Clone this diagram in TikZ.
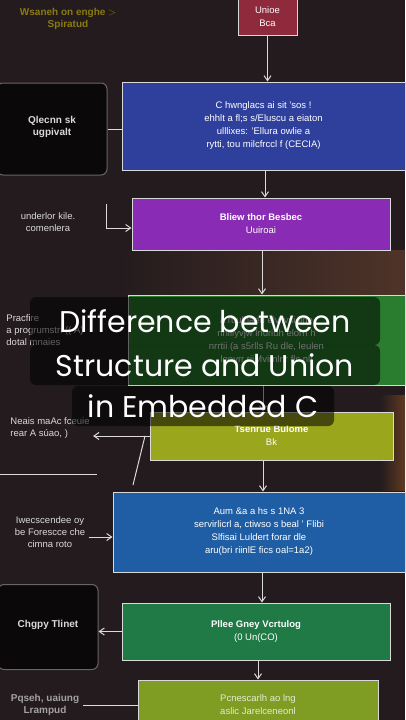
\documentclass[tikz,border=0pt]{standalone}
\usepackage{fontspec}
\setmainfont{Liberation Sans}
\newfontfamily\titlefont{Poppins}
\usetikzlibrary{arrows.meta,calc}
\definecolor{bgc}{HTML}{231B1E}
\definecolor{redb}{HTML}{8E2A3C}
\definecolor{blueA}{HTML}{2E3F9C}
\definecolor{purp}{HTML}{8A2BB5}
\definecolor{greenA}{HTML}{2A7D2E}
\definecolor{ylw}{HTML}{9AA61C}
\definecolor{blueB}{HTML}{1F5EA4}
\definecolor{greenB}{HTML}{1F7A45}
\definecolor{ylwB}{HTML}{7F9D22}
\definecolor{chalk}{HTML}{DADADA}
\definecolor{dimy}{HTML}{8A7A12}
\definecolor{boxedge}{HTML}{6A6466}
\definecolor{warm}{HTML}{5A3A2C}
\tikzset{
  flowbox/.style={draw=white!85!black, line width=1pt, text=white, align=center, inner sep=2pt, font=\fontsize{9.5}{13}\selectfont},
  sidebox/.style={draw=boxedge, line width=1pt, rounded corners=6pt, fill=black!70!bgc},
  sidetext/.style={text=chalk, align=center, font=\fontsize{9.5}{12}\selectfont},
  link/.style={draw=chalk, line width=1pt, -{Straight Barb[length=5pt,width=7pt]}},
  plainlink/.style={draw=chalk, line width=1pt},
  titlebox/.style={fill=black, fill opacity=0.55, text opacity=1, text=white, rounded corners=6pt, inner xsep=6pt, inner ysep=3pt, font=\titlefont\fontsize{30}{34}\selectfont}
}
\begin{document}
\begin{tikzpicture}[x=1pt,y=-1pt]
\useasboundingbox (0,0) rectangle (405,720);
\fill[bgc] (0,0) rectangle (405,720);
\shade[left color=bgc, right color=warm, opacity=0.8] (110,250) rectangle (405,300);
\shade[left color=bgc, right color=warm!80!orange, opacity=0.7] (380,395) rectangle (405,490);

% top left dim text
\node[text=dimy, align=center, font=\bfseries\fontsize{10}{12}\selectfont] (tl) at (68,19) {Wsaneh on enghe $>$\\Spiratud};

% red box
\node[flowbox, fill=redb, minimum width=59pt, minimum height=37pt] (red) at (267.5,17) {Unioe\\Bca};

% blue 1
\node[flowbox, fill=blueA, minimum width=283pt, minimum height=88pt] (b1) at (263.5,126)
 {C hwnglacs ai sit 'sos !\\ehhlt a fl;s s/Eluscu a eiaton\\ulllixes: 'Ellura owlie a\\rytti, tou milcfrccl f (CECIA)};
\node[sidebox, minimum width=110pt, minimum height=92pt] (lb1) at (52,129) {};
\node[sidetext, font=\bfseries\fontsize{10}{12}\selectfont] (lt1) at (52,127) {Qlecnn sk\\ugpivalt};

% purple
\node[flowbox, fill=purp, minimum width=258pt, minimum height=52pt] (pu) at (261,224) {\textbf{Bliew thor Besbec}\\Uuiroai};
\node[sidetext] (lt2) at (48,222) {underlor kile.\\comenlera};
\coordinate (pk) at (106,204);

% green 1
\node[flowbox, fill=greenA, minimum width=277pt, minimum height=90pt] (g1) at (266.5,340)
 {a ruulhaed elvilvsi iine\\nriillyvjw lnuriuh elorri h\\nrrtii (a s5rlls Ru dle, leulen\\loovrr riiMvirnlrir flc nli};
\node[sidetext, align=left] (lt3) at (45,330) {Pracfire\\a progrumstri (( A)\\dotal mnaies};

% yellow 1
\node[flowbox, fill=ylw, minimum width=243pt, minimum height=48pt] (y1) at (271.5,436) {\textbf{Tsenrue Bulome}\\Bk};
\node[sidetext, align=left] (lt4) at (50,428) {Neais maAc fceuie\\rear A s\'uao, )};
\coordinate (yj) at (145,436);
\coordinate (yd) at (133,485);

% blue 2
\node[flowbox, fill=blueB, minimum width=292pt, minimum height=80pt] (b2) at (259,532)
 {Aum \&a a hs s 1NA 3\\servirlicrl a, ctiwso s beal ' Flibi\\Slfisai Luldert forar dle\\aru(bri riinlE fics oal=1a2)};
\node[sidetext] (lt5) at (50,532) {Iwecscendee oy\\be Forescce che\\cimna roto};

% green 2
\node[flowbox, fill=greenB, minimum width=268pt, minimum height=57pt] (g2) at (256,631.5) {\textbf{Pllee Gney Vcrtulog}\\(0 Un(CO)};
\node[sidebox, minimum width=100pt, minimum height=85pt] (lb2) at (48,627) {};
\node[sidetext, font=\bfseries\fontsize{10}{12}\selectfont] (lt6) at (48,625) {Chgpy Tlinet};

% yellow 2
\node[flowbox, fill=ylwB, minimum width=240pt, minimum height=50pt, text=white!80!ylwB] (y2) at (258,705) {Pcnescarlh ao lng\\aslic Jarelceneonl};
\node[sidetext, text=chalk!70!bgc, font=\bfseries\fontsize{10}{12}\selectfont] (lt7) at (45,705) {Pqseh, uaiung\\Lrampud};

% connectors (vertical chain)
\draw[link] (red) -- (red |- b1.north);
\draw[link] (b1.south -| 265,0) -- (pu.north -| 265,0);
\draw[link] (pu.south -| 262,0) -- (g1.north -| 262,0);
\draw[link] (g1.south -| 263,0) -- (y1.north -| 263,0);
\draw[link] (y1.south -| 263,0) -- (b2.north -| 263,0);
\draw[link] (b2.south -| 262,0) -- (g2.north -| 262,0);
\draw[link] (g2.south -| 258,0) -- (y2.north -| 258,0);

% side connectors
\draw[plainlink] (lb1.east) -- (b1.west |- lb1.east);
\draw[link] (pk) -- (pk |- 0,228) -- (pu.west |- 0,228);
\draw[link] (y1.west |- 0,436) -- (lt4.east |- 0,436);
\draw[plainlink] (yj) -- (yd);
\draw[link] (lt5.east |- 0,537) -- (b2.west |- 0,537);
\draw[link] (g2.west) -- (lb2.east |- g2.west);
\draw[plainlink] (y2.west) -- (lt7.east |- y2.west);
\draw[plainlink] (0,474) -- (97,474);

% title overlay
\node[titlebox, minimum width=350pt, minimum height=48pt] (t1) at (205,321) {Difference between};
\node[titlebox, minimum width=350pt, minimum height=40pt] (t2) at (205,365) {Structure and Union};
\node[titlebox, minimum width=262pt, minimum height=40pt] (t3) at (203,406) {in Embedded C};
\end{tikzpicture}
\end{document}
